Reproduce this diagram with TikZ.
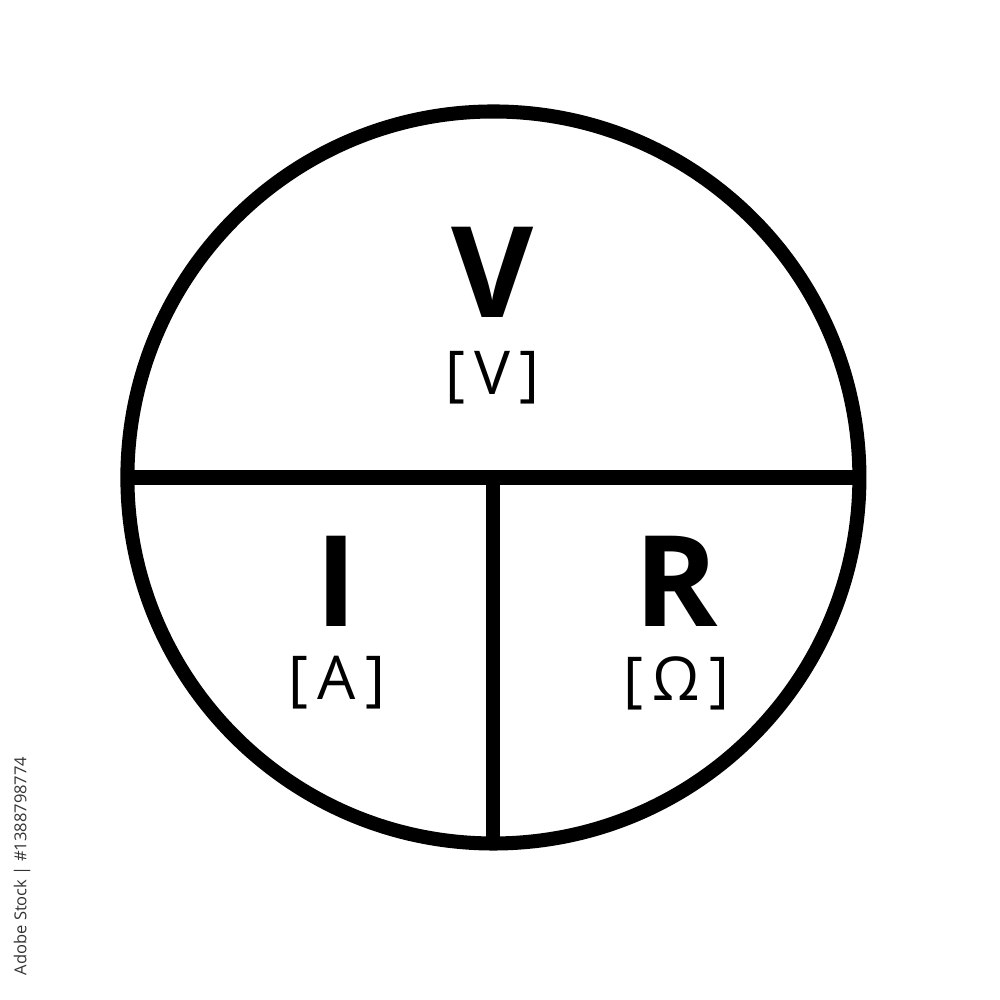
\documentclass[tikz,border=0pt]{standalone}
\usepackage{fontspec}
\setmainfont{Open Sans}
\usepackage{tikz}

\tikzset{
    letter/.style={inner sep=0pt, font=\fontsize{36}{40}\selectfont\bfseries},
    unit/.style={inner sep=0pt, font=\fontsize{17.2}{19}\selectfont}
}
\newcommand{\unitof}[1]{[\hspace{2.6pt}#1\hspace{2.6pt}]}

\begin{document}
\begin{tikzpicture}
            \useasboundingbox (0, 0) rectangle (10, 10);
            \node[draw, circle, line width=4pt, inner sep=0pt, outer sep=0pt, minimum size=7.32cm] (ring) at (4.934, 5.225) {};
            \draw[line width=4pt] (ring.west) -- (ring.east);
            \draw[line width=4pt] (ring.center) -- (ring.south);

            \node[letter] (volt) at (4.93, 7.275) {V};
            \node[unit] (voltunit) at (4.925, 6.225) {\unitof{V}};
            \node[letter] (amp) at (3.365, 4.185) {I};
            \node[unit] (ampunit) at (3.37, 3.17) {\unitof{A}};
            \node[letter] (ohm) at (6.765, 4.185) {R};
            \node[unit] (ohmunit) at (6.765, 3.17) {\unitof{Ω}};

            \node[rotate=90, inner sep=0pt, text=black!80, font=\fontsize{4.7}{5}\selectfont] (stamp) at (0.22, 1.34) {Adobe Stock | \#1388798774};
        \end{tikzpicture}
\end{document}
